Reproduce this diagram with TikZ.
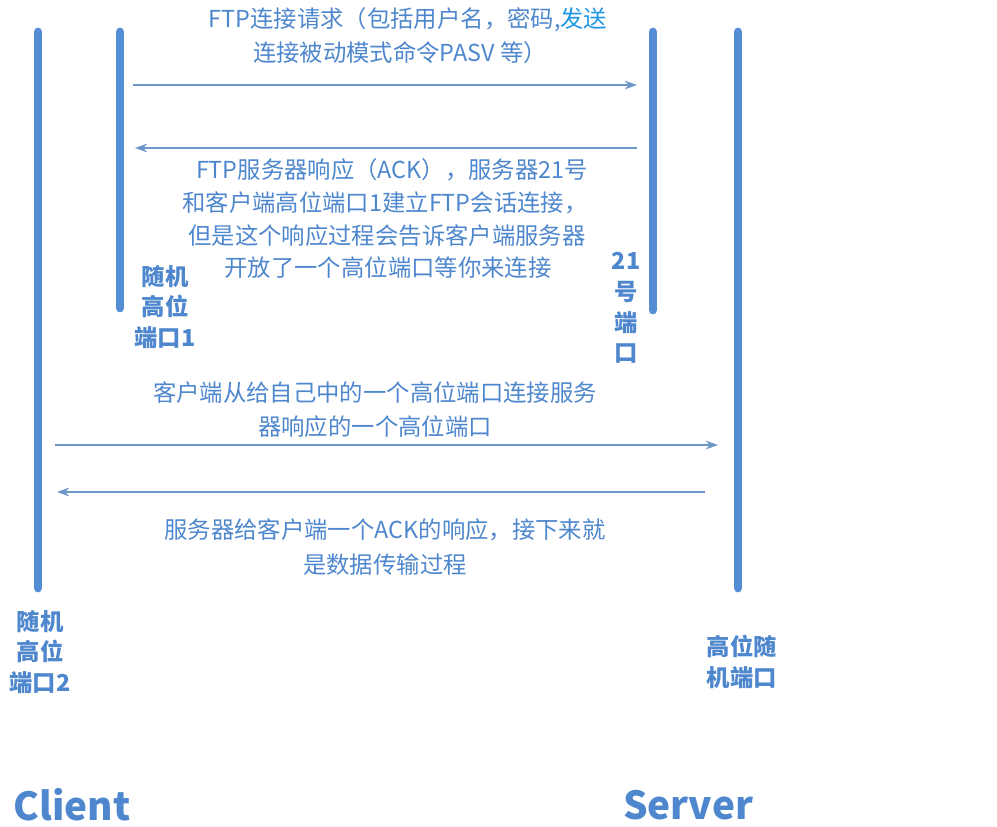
\documentclass[tikz,border=0pt]{standalone}
\usepackage{fontspec}
\setmainfont{Noto Sans CJK SC}
\usetikzlibrary{arrows.meta}
\definecolor{bar}{RGB}{84,141,212}
\definecolor{txt}{RGB}{78,135,205}
\definecolor{arr}{RGB}{110,150,200}
\tikzset{
 x=0.02cm,y=-0.02cm,
 lifeline/.style={bar,line width=5pt,line cap=round},
 msg/.style={arr,line width=0.9pt,-{Stealth[length=7pt,width=5pt]}},
 lbl/.style={txt,font=\fontsize{13.3}{15}\selectfont,inner sep=0},
 tag/.style={txt,font=\bfseries\fontsize{13.3}{17.5}\selectfont,align=center,inner sep=0},
 big/.style={txt,font=\bfseries\fontsize{22}{26}\selectfont,inner sep=0}
}
\begin{document}
\begin{tikzpicture}
\useasboundingbox (0,0) rectangle (997,826);
\coordinate (ct) at (38,32); \coordinate (cb) at (38,588);
\coordinate (lt) at (120,32); \coordinate (lb) at (120,308);
\coordinate (rt) at (653,32); \coordinate (rb) at (653,310);
\coordinate (st) at (738,32); \coordinate (sb) at (738,588);
\draw[lifeline] (ct)--(cb); \draw[lifeline] (lt)--(lb);
\draw[lifeline] (rt)--(rb); \draw[lifeline] (st)--(sb);
\coordinate (a1s) at (133,85); \coordinate (a1e) at (637,85);
\coordinate (a2s) at (637,148); \coordinate (a2e) at (135,148);
\coordinate (a3s) at (55,445); \coordinate (a3e) at (718,445);
\coordinate (a4s) at (705,492); \coordinate (a4e) at (57,492);
\draw[msg] (a1s)--(a1e); \draw[msg] (a2s)--(a2e);
\draw[msg] (a3s)--(a3e); \draw[msg] (a4s)--(a4e);
\node[lbl] (t1) at (408,20) {FTP连接请求（包括用户名，密码,\textcolor[RGB]{30,150,230}{发送}};
\node[lbl] (t2) at (400,53) {连接被动模式命令PASV 等）};
\node[lbl] (t3) at (392,170) {FTP服务器响应（ACK），服务器21号};
\node[lbl] (t4) at (385,203) {和客户端高位端口1建立FTP会话连接，};
\node[lbl] (t5) at (387,236) {但是这个响应过程会告诉客户端服务器};
\node[lbl] (t6) at (388,268) {开放了一个高位端口等你来连接};
\node[tag] (p1) at (165,307) {随机\\高位\\端口1};
\node[tag] (p21) at (626,308) {21\\号\\端\\口};
\node[lbl] (t7) at (375,393) {客户端从给自己中的一个高位端口连接服务};
\node[lbl] (t8) at (375,427) {器响应的一个高位端口};
\node[lbl] (t9) at (385,530) {服务器给客户端一个ACK的响应，接下来就};
\node[lbl] (t10) at (385,565) {是数据传输过程};
\node[tag] (p2) at (40,652) {随机\\高位\\端口2};
\node[tag] (p3) at (742,662) {高位随\\机端口};
\node[big] (cl) at (72,805) {Client};
\node[big] (sv) at (688,805) {Server};
\end{tikzpicture}
\end{document}
